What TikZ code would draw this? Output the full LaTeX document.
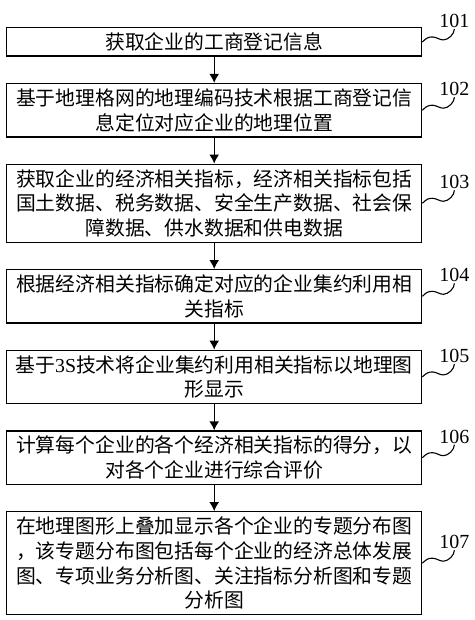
\documentclass[tikz,border=0pt]{standalone}
\usepackage{fontspec}
\setmainfont{Liberation Serif}
\newfontfamily\cjk{Noto Sans CJK SC}
\usetikzlibrary{positioning,arrows.meta}

\begin{document}
\begin{tikzpicture}[x=1pt,y=1pt,
	stepbox/.style={draw=black,line width=1.4pt,minimum width=415pt,text width=405pt,align=center,inner xsep=5pt,inner ysep=5pt,font=\cjk\fontsize{19.8}{24.8}\selectfont},
	num/.style={font=\fontsize{20}{20}\selectfont,inner sep=1pt,anchor=south},
	wave/.style={draw=black,line width=1.1pt},
	flow/.style={draw=black,line width=1.4pt,-{Latex[length=9pt,width=10pt]}},
	node distance=26pt]
	
	\useasboundingbox (0pt,0pt) rectangle (474pt,-620pt);
	
	% steps
	\node[stepbox,anchor=north west] (s1) at (6pt,-27pt){获取企业的工商登记信息};
	\node[stepbox,below=of s1] (s2){基于地理格网的地理编码技术根据工商登记信\\息定位对应企业的地理位置};
	\node[stepbox,below=of s2] (s3){获取企业的经济相关指标，经济相关指标包括\\国土数据、税务数据、安全生产数据、社会保\\障数据、供水数据和供电数据};
	\node[stepbox,below=of s3] (s4){根据经济相关指标确定对应的企业集约利用相\\关指标};
	\node[stepbox,below=of s4] (s5){基于{\rmfamily 3S}技术将企业集约利用相关指标以地理图\\形显示};
	\node[stepbox,below=of s5] (s6){计算每个企业的各个经济相关指标的得分，以\\对各个企业进行综合评价};
	\node[stepbox,below=of s6] (s7){在地理图形上叠加显示各个企业的专题分布图\\，该专题分布图包括每个企业的经济总体发展\\图、专项业务分析图、关注指标分析图和专题\\分析图};
	
	% step numbers
	\node[num] (n1) at ([shift={(32pt,13pt)}]s1.east){101};
	\node[num] (n2) at ([shift={(32pt,13pt)}]s2.east){102};
	\node[num] (n3) at ([shift={(32pt,13pt)}]s3.east){103};
	\node[num] (n4) at ([shift={(32pt,13pt)}]s4.east){104};
	\node[num] (n5) at ([shift={(32pt,13pt)}]s5.east){105};
	\node[num] (n6) at ([shift={(32pt,13pt)}]s6.east){106};
	\node[num] (n7) at ([shift={(32pt,13pt)}]s7.east){107};
	
	\draw[wave] (s1.east) .. controls +(4,4) and +(-4,0) .. ++(10,5) .. controls +(4,0) and +(-4,0) .. ++(11,-3) .. controls +(5,0) and +(0,-5) .. (n1.south);
	\draw[wave] (s2.east) .. controls +(4,4) and +(-4,0) .. ++(10,5) .. controls +(4,0) and +(-4,0) .. ++(11,-3) .. controls +(5,0) and +(0,-5) .. (n2.south);
	\draw[wave] (s3.east) .. controls +(4,4) and +(-4,0) .. ++(10,5) .. controls +(4,0) and +(-4,0) .. ++(11,-3) .. controls +(5,0) and +(0,-5) .. (n3.south);
	\draw[wave] (s4.east) .. controls +(4,4) and +(-4,0) .. ++(10,5) .. controls +(4,0) and +(-4,0) .. ++(11,-3) .. controls +(5,0) and +(0,-5) .. (n4.south);
	\draw[wave] (s5.east) .. controls +(4,4) and +(-4,0) .. ++(10,5) .. controls +(4,0) and +(-4,0) .. ++(11,-3) .. controls +(5,0) and +(0,-5) .. (n5.south);
	\draw[wave] (s6.east) .. controls +(4,4) and +(-4,0) .. ++(10,5) .. controls +(4,0) and +(-4,0) .. ++(11,-3) .. controls +(5,0) and +(0,-5) .. (n6.south);
	\draw[wave] (s7.east) .. controls +(4,4) and +(-4,0) .. ++(10,5) .. controls +(4,0) and +(-4,0) .. ++(11,-3) .. controls +(5,0) and +(0,-5) .. (n7.south);
	
	% flow
	\draw[flow] (s1)--(s2);
	\draw[flow] (s2)--(s3);
	\draw[flow] (s3)--(s4);
	\draw[flow] (s4)--(s5);
	\draw[flow] (s5)--(s6);
	\draw[flow] (s6)--(s7);
\end{tikzpicture}
\end{document}
